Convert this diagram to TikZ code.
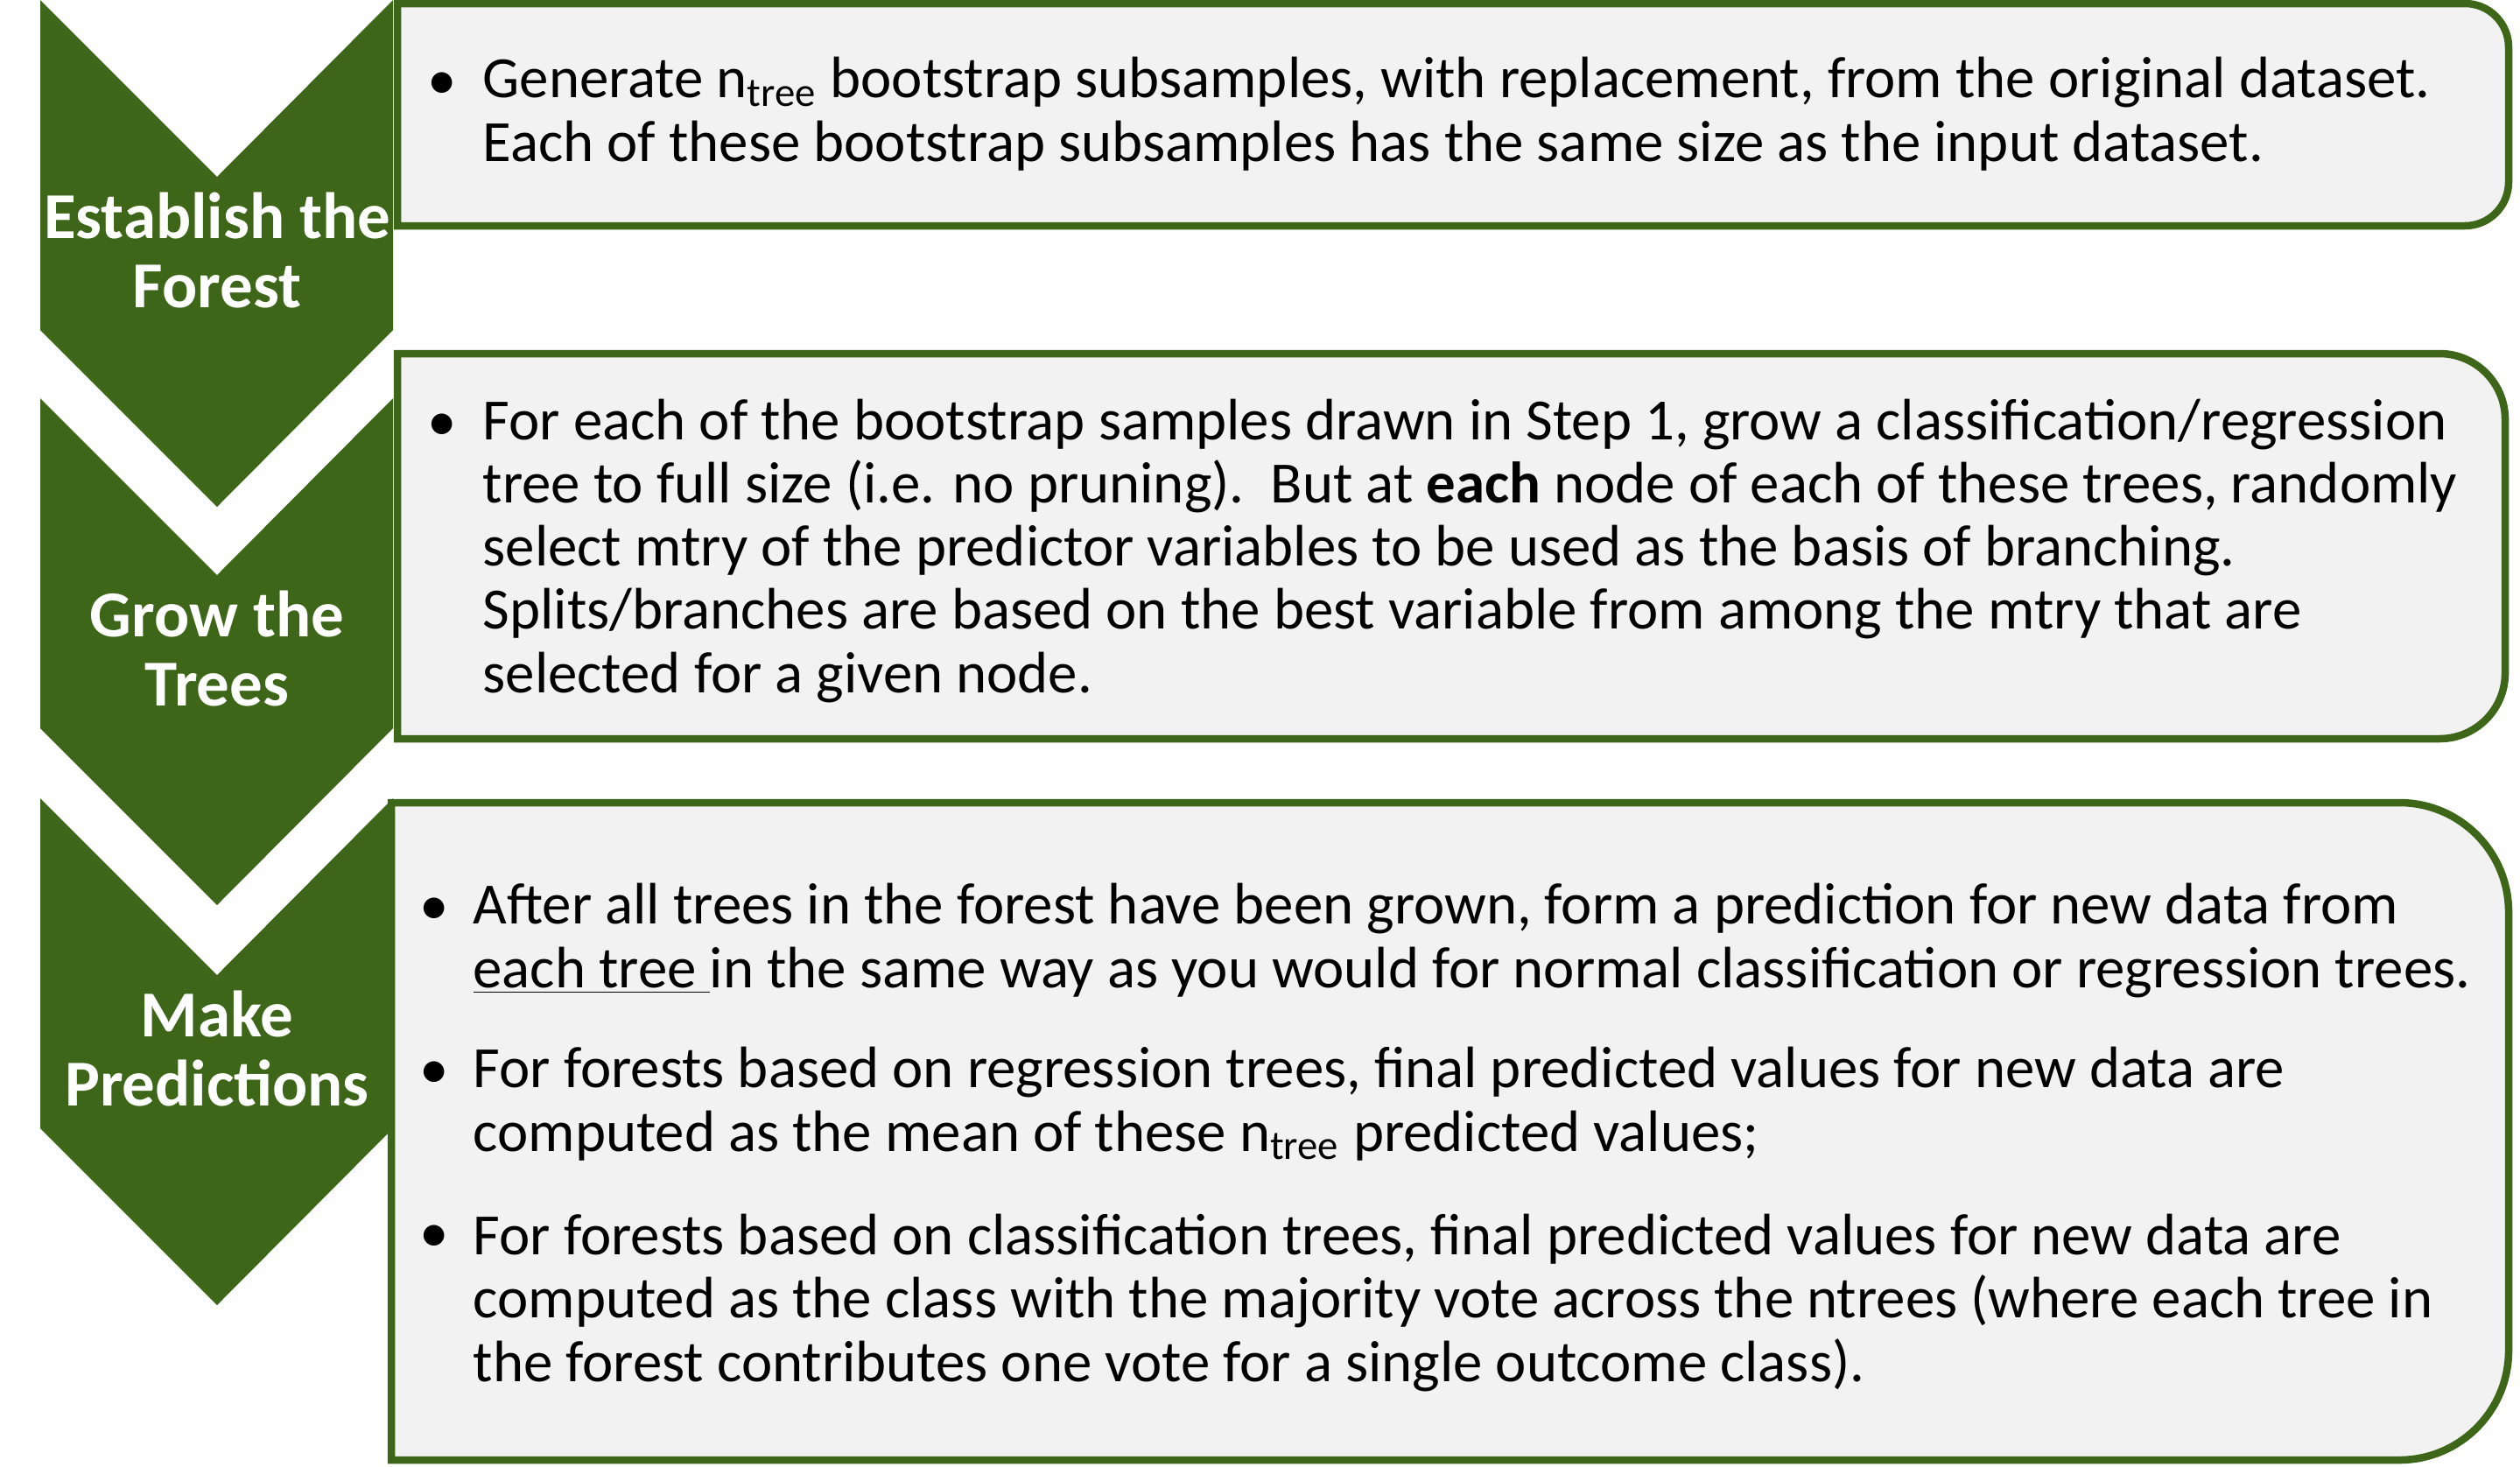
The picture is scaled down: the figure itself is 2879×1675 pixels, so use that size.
\documentclass[tikz,border=0pt]{standalone}
\usepackage{fontspec}
\setmainfont{Carlito}
\definecolor{leaf}{HTML}{3D6619}
\definecolor{paper}{HTML}{F2F2F2}

\begin{document}
\begin{tikzpicture}[x=0.01cm,y=-0.01cm,
    chev/.style={fill=leaf},
    card/.style={draw=leaf,fill=paper,line width=0.085cm},
    head/.style={text=white,inner sep=0pt,align=center,font=\fontsize{21.3}{22.5}\selectfont\bfseries},
    body/.style={anchor=base west,inner sep=0pt,align=left,font=\fontsize{19}{20.5}\selectfont},
    dot/.style={anchor=base,inner sep=0pt,font=\fontsize{19}{20.5}\selectfont}]
  \useasboundingbox (0,0) rectangle (2879,1675);
  % chevrons with the step names
  \foreach \t/\name/\txt in {0/est/{Establish the\\Forest},455/grow/{Grow the\\Trees},912/make/{Make\\Predictions}}{
    \fill[chev] (46,\t) -- (248,\t+202) -- (449,\t) -- (449,\t+377) -- (248,\t+579) -- (46,\t+377) -- cycle;
    \node[head] (\name) at (248,\t+286) {\txt};
  }
  % boxes, rounded on the right only
  \foreach \xa/\ya/\xb/\yb/\r in {454/4/2866/258/50,454/404/2862/844/75,447/917/2866/1668/125}{
    \draw[card] (\xa,\ya) -- (\xb-\r,\ya) arc[start angle=-90,end angle=0,radius=\r]
      -- (\xb,\yb-\r) arc[start angle=0,end angle=90,radius=\r] -- (\xa,\yb) -- cycle;
  }
  % text nodes sit on the baseline of their last line
  \node[dot] (b1) at (505,113) {•};
  \node[body] (t1) at (551,184) {Generate n\textsubscript{tree} bootstrap subsamples, with replacement, from the original dataset.\\
    Each of these bootstrap subsamples has the same size as the input dataset.};
  \node[dot] (b2) at (505,503) {•};
  \node[body] (t2) at (551,791) {For each of the bootstrap samples drawn in Step 1, grow a classification/regression\\
    tree to full size (i.e. no pruning).\ \ But at \textbf{each} node of each of these trees, randomly\\
    select mtry of the predictor variables to be used as the basis of branching.\\
    Splits/branches are based on the best variable from among the mtry that are\\
    selected for a given node.};
  \node[dot] (b3) at (496,1056) {•};
  \node[body] (t3) at (540,1128) {After all trees in the forest have been grown, form a prediction for new data from\\
    \underline{each tree\ }in the same way as you would for normal classification or regression trees.};
  \node[dot] (b4) at (496,1243) {•};
  \node[body] (t4) at (540,1315) {For forests based on regression trees, final predicted values for new data are\\
    computed as the mean of these n\textsubscript{tree} predicted values;};
  \node[dot] (b5) at (496,1430) {•};
  \node[body] (t5) at (540,1578) {For forests based on classification trees, final predicted values for new data are\\
    computed as the class with the majority vote across the ntrees (where each tree in\\
    the forest contributes one vote for a single outcome class).};
\end{tikzpicture}
\end{document}
